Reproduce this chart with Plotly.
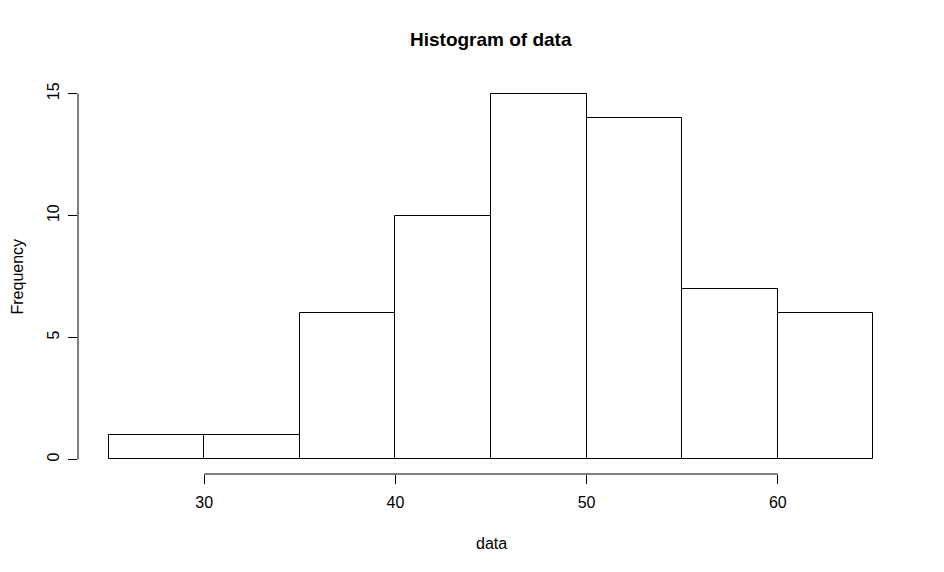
import plotly.graph_objects as go

# histogram bins (breaks) and counts
bin_edges = [25, 30, 35, 40, 45, 50, 55, 60, 65]
counts = [1, 1, 6, 10, 15, 14, 7, 6]
x_ticks = [30, 40, 50, 60]
y_ticks = [0, 5, 10, 15]

centers = [(a + b) / 2 for a, b in zip(bin_edges[:-1], bin_edges[1:])]
widths = [b - a for a, b in zip(bin_edges[:-1], bin_edges[1:])]

font = "Liberation Sans, Arial, sans-serif"

fig = go.Figure(go.Bar(
    x=centers, y=counts, width=widths,
    marker=dict(color="white", line=dict(color="black", width=1)),
    hoverinfo="x+y",
))

# R pads the axis range by 4% on each side
xpad = (bin_edges[-1] - bin_edges[0]) * 0.04
ypad = max(y_ticks) * 0.04

# page body has an 8px margin, so the figure is a bit smaller than the window
fig.update_layout(
    width=936, height=564,
    margin=dict(l=70, r=40, t=71, b=98),
    paper_bgcolor="white", plot_bgcolor="white",
    font=dict(family=font, size=16, color="black"),
    showlegend=False,
    bargap=0,
)
fig.update_xaxes(
    range=[bin_edges[0] - xpad, bin_edges[-1] + xpad],
    tickvals=x_ticks, ticks="outside", ticklen=9, tickcolor="black", tickwidth=1,
    ticklabelstandoff=5,
    showgrid=False, zeroline=False, showline=False,
)
fig.update_yaxes(
    range=[-ypad, max(y_ticks) + ypad],
    tickvals=y_ticks, ticks="outside", ticklen=9, tickcolor="black", tickwidth=1,
    tickangle=-90, ticklabelstandoff=3,
    showgrid=False, zeroline=False, showline=False,
)

# axis lines only between the first and last ticks, like base R
fig.add_shape(type="line", xref="x", yref="paper", x0=x_ticks[0], x1=x_ticks[-1],
              y0=0, y1=0, line=dict(color="black", width=1))
fig.add_shape(type="line", xref="paper", yref="y", x0=0, x1=0,
              y0=y_ticks[0], y1=y_ticks[-1], line=dict(color="black", width=1))

fig.add_annotation(text="<b>Histogram of data</b>", xref="paper", yref="paper",
                   x=0.5, y=1, yshift=40, showarrow=False, yanchor="middle",
                   font=dict(size=19, family=font))
fig.add_annotation(text="data", xref="paper", yref="paper", x=0.5, y=0, yshift=-69,
                   showarrow=False, yanchor="middle", font=dict(size=16, family=font))
fig.add_annotation(text="Frequency", xref="paper", yref="paper", x=0, y=0.5, xshift=-61,
                   textangle=-90, showarrow=False, xanchor="center",
                   font=dict(size=16, family=font))

fig.write_html("out.html")
